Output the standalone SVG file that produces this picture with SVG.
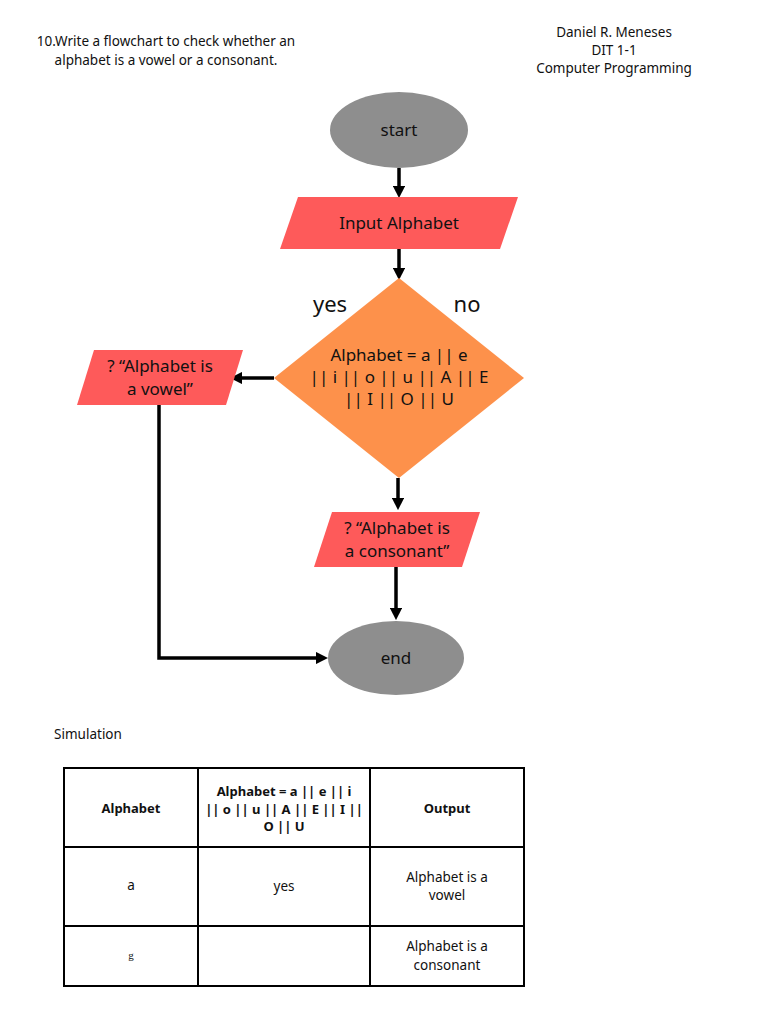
<svg xmlns="http://www.w3.org/2000/svg" width="768" height="1024" viewBox="0 0 768 1024">
<defs>
<style>
text{font-family:"Noto Sans","Liberation Sans",sans-serif;fill:#111;text-anchor:middle}
.h{font-size:13.5px}
.n{font-size:17px}
.io{fill:#fe5a5a}
.term{fill:#8e8e8e}
.c{stroke:#000;stroke-width:3.5;fill:none}
.t{stroke:#000;stroke-width:2;fill:none}
.tb{font-size:13px;font-weight:bold}
.tr{font-size:13.5px}
</style>
<marker id="a" viewBox="0 0 10 10" refX="5" refY="5" markerWidth="3.5" markerHeight="3.5" orient="auto"><path d="M0,0L10,5L0,10z" fill="#000"/></marker>
</defs>
<rect width="768" height="1024" fill="#fff"/>
<text x="166" y="46" class="h">10.Write a flowchart to check whether an</text>
<text x="166" y="65" class="h">alphabet is a vowel or a consonant.</text>
<text x="614" y="37" class="h">Daniel R. Meneses</text>
<text x="614" y="55" class="h">DIT 1-1</text>
<text x="614" y="73" class="h">Computer Programming</text>
<g id="connectors">
<line x1="399" y1="168" x2="399" y2="192" class="c" marker-end="url(#a)"/>
<line x1="399" y1="249" x2="399" y2="274" class="c" marker-end="url(#a)"/>
<line x1="274" y1="378" x2="236" y2="378" class="c" marker-end="url(#a)"/>
<line x1="398" y1="478" x2="398" y2="504" class="c" marker-end="url(#a)"/>
<line x1="396" y1="567" x2="396" y2="614" class="c" marker-end="url(#a)"/>
<polyline points="159,405 159,658 322,658" class="c" marker-end="url(#a)"/>
<text x="330" y="312" class="n" style="font-size:22px">yes</text>
<text x="467" y="312" class="n" style="font-size:22px">no</text>
</g>
<g id="start"><ellipse cx="399" cy="130" rx="69" ry="38" class="term"/><text x="399" y="136" class="n">start</text></g>
<g id="input"><polygon points="298,197 518,197 500,249 280,249" class="io"/><text x="399" y="229" class="n">Input Alphabet</text></g>
<g id="decision"><polygon points="399,278 524,378 399,478 274,378" fill="#fd914b"/>
<text x="399" y="361" class="n">Alphabet = a || e</text><text x="399" y="383" class="n">|| i || o || u || A || E</text><text x="399" y="405" class="n">|| I || O || U</text></g>
<g id="vowel"><polygon points="94,350 243,350 226,405 77,405" class="io"/><text x="160" y="372" class="n">? “Alphabet is</text><text x="160" y="395" class="n">a vowel”</text></g>
<g id="consonant"><polygon points="332,512 480,512 462,567 314,567" class="io"/><text x="397" y="534" class="n">? “Alphabet is</text><text x="397" y="557" class="n">a consonant”</text></g>
<g id="end"><ellipse cx="396" cy="658" rx="68" ry="37" class="term"/><text x="396" y="664" class="n">end</text></g>
<text x="88" y="739" class="h">Simulation</text>
<g id="table">
<rect x="64" y="768" width="460" height="218" class="t"/>
<line x1="198" y1="768" x2="198" y2="986" class="t"/>
<line x1="370" y1="768" x2="370" y2="986" class="t"/>
<line x1="64" y1="847" x2="524" y2="847" class="t"/>
<line x1="64" y1="926" x2="524" y2="926" class="t"/>
<text x="131" y="813" class="tb">Alphabet</text>
<text x="284" y="796" class="tb">Alphabet = a || e || i</text>
<text x="284" y="814" class="tb">|| o || u || A || E || I ||</text>
<text x="284" y="831" class="tb">O || U</text>
<text x="447" y="813" class="tb">Output</text>
<text x="131" y="890" class="tr">a</text>
<text x="284" y="891" class="tr">yes</text>
<text x="447" y="882" class="tr">Alphabet is a</text>
<text x="447" y="900" class="tr">vowel</text>
<text x="131" y="959" style="font-family:'Liberation Serif',serif;font-size:11px">g</text>
<text x="447" y="951" class="tr">Alphabet is a</text>
<text x="447" y="970" class="tr">consonant</text>
</g>
</svg>
